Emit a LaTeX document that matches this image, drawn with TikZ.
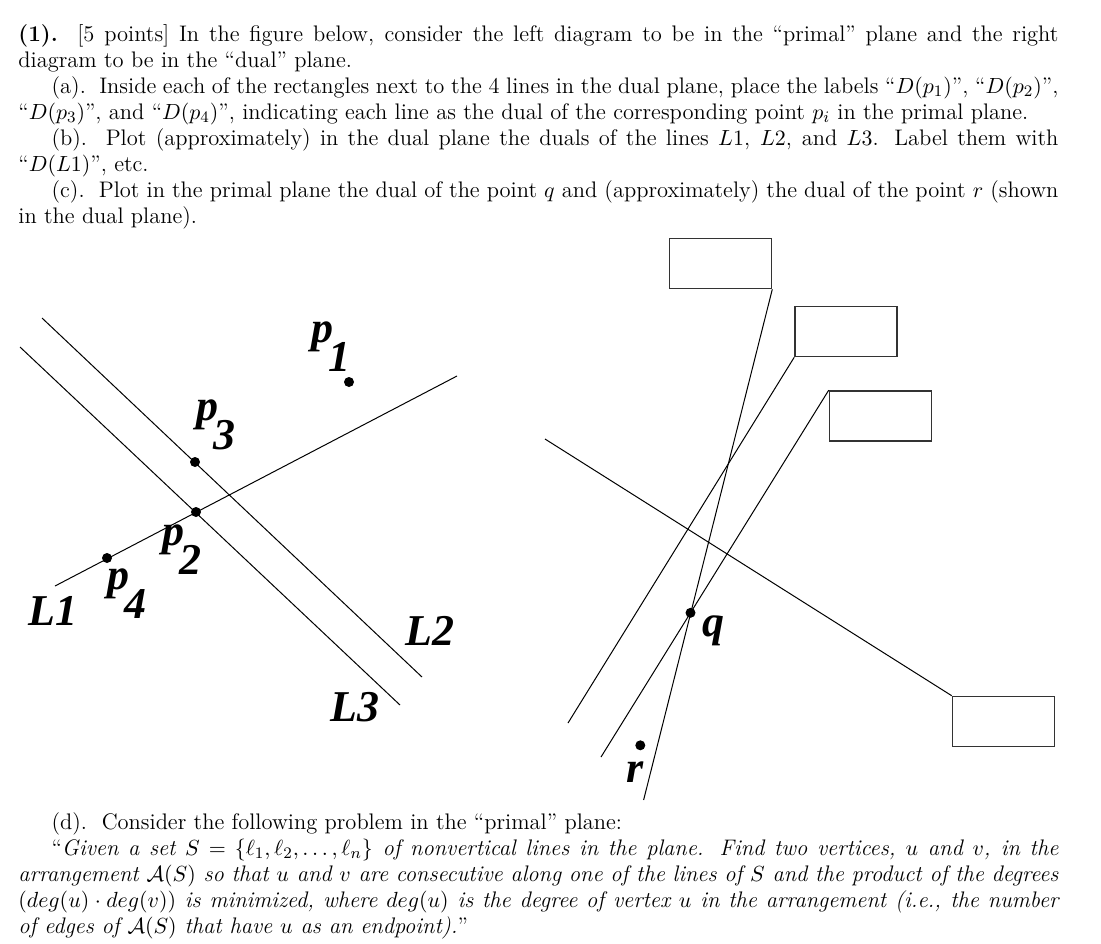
\documentclass[tikz,border=0pt]{standalone}
\usepackage{fontspec}
\newfontfamily\labfont{Liberation Serif}
\tikzset{
  txt/.style={inner sep=0pt, text width=520pt, align=justify, font=\fontsize{11.25}{13}\selectfont},
  lab/.style={inner sep=0pt, anchor=base west, font=\labfont\bfseries\itshape\fontsize{22}{22}\selectfont},
  dot/.style={circle, fill=black, inner sep=0pt, minimum size=5pt},
  ln/.style={line width=0.5pt},
  lbox/.style={draw=black!80, line width=0.8pt, minimum width=51pt, minimum height=25pt, inner sep=0pt}
}
\newcommand{\pl}[2]{#1\kern-2.5pt\raisebox{-14.5pt}{#2}}
\begin{document}
\begin{tikzpicture}[x=0.5pt,y=-0.5pt]
\useasboundingbox (0,0) rectangle (1101,943);
% top text
\node[txt, anchor=base west] (top) at (18,41) {\parindent=16.6pt
\noindent\textbf{(1).}\ \ [5 points] In the figure below, consider the left diagram to be in the ``primal'' plane and the right\linebreak diagram to be in the ``dual'' plane.\par
(a).\ \ Inside each of the rectangles next to the 4 lines in the dual plane, place the labels ``$D(p_1)$'', ``$D(p_2)$'',\linebreak ``$D(p_3)$'', and ``$D(p_4)$'', indicating each line as the dual of the corresponding point $p_i$ in the primal plane.\par
(b).\ \ Plot (approximately) in the dual plane the duals of the lines $L1$, $L2$, and $L3$. Label them with\linebreak ``$D(L1)$'', etc.\par
(c).\ \ Plot in the primal plane the dual of the point $q$ and (approximately) the dual of the point $r$ (shown\linebreak in the dual plane).};
% bottom text
\node[txt, anchor=base west] (bot) at (18,829) {\parindent=16.6pt
\indent(d).\ \ Consider the following problem in the ``primal'' plane:\par
``\emph{Given a set $S=\{\ell_1,\ell_2,\ldots,\ell_n\}$ of nonvertical lines in the plane. Find two vertices, $u$ and $v$, in the\linebreak arrangement $\mathcal{A}(S)$ so that $u$ and $v$ are consecutive along one of the lines of $S$ and the product of the degrees\linebreak $(deg(u)\cdot deg(v))$ is minimized, where $deg(u)$ is the degree of vertex $u$ in the arrangement (i.e., the number\linebreak of edges of $\mathcal{A}(S)$ that have $u$ as an endpoint).}''};
% ---------- primal plane ----------
\coordinate (L2a) at (42,318);  \coordinate (L2b) at (422,677);
\coordinate (L3a) at (20,347);  \coordinate (L3b) at (400,705);
\coordinate (L1a) at (55,586);  \coordinate (L1b) at (457,376);
\draw[ln] (L2a) -- (L2b);
\draw[ln] (L3a) -- (L3b);
\draw[ln] (L1a) -- (L1b);
\node[dot] (p1) at (349,382) {};
\node[dot] (p3) at (195,462) {};
\node[dot] (p2) at (196,512) {};
\node[dot] (p4) at (107,558) {};
\node[lab] (p1l) at (311,342) {\pl{p}{1}};
\node[lab] (p3l) at (196,420) {\pl{p}{3}};
\node[lab] (p2l) at (162,545) {\pl{p}{2}};
\node[lab] (p4l) at (107,589) {\pl{p}{4}};
\node[lab] (L1l) at (28,625) {L1};
\node[lab] (L2l) at (405,645) {L2};
\node[lab] (L3l) at (330,721) {L3};
% ---------- dual plane ----------
\node[lbox] (b1) at (720.5,263.5) {};
\node[lbox] (b2) at (846,331.5) {};
\node[lbox] (b3) at (880.5,416) {};
\node[lbox] (b4) at (1003.5,721.5) {};
\coordinate (Ae) at (643.6,800);
\coordinate (Be) at (568,723);
\coordinate (Ce) at (601,757);
\coordinate (Ds) at (545,439);
\draw[ln] (b1.south east) -- (Ae);
\draw[ln] (b2.south west) -- (Be);
\draw[ln] (b3.north west) -- (Ce);
\draw[ln] (Ds) -- (b4.north west);
\node[dot] (q) at (690.5,612.8) {};
\node[dot] (r) at (640.3,745.3) {};
\node[lab] (ql) at (702,636) {q};
\node[lab] (rl) at (626,782) {r};
\end{tikzpicture}
\end{document}
